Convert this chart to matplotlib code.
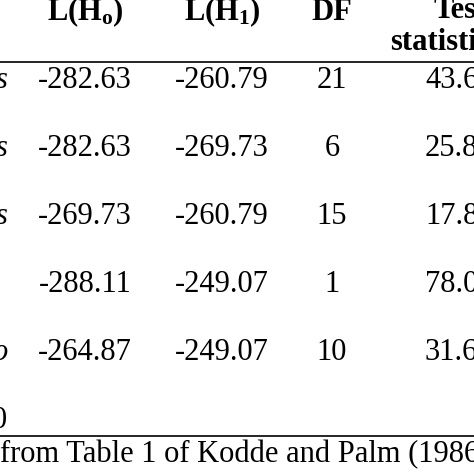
import matplotlib
matplotlib.use('Agg')
import matplotlib.pyplot as plt

plt.rcParams['font.family'] = 'Liberation Serif'
plt.rcParams['mathtext.fontset'] = 'custom'
plt.rcParams['mathtext.rm'] = 'Liberation Serif'
plt.rcParams['mathtext.bf'] = 'Liberation Serif:bold'

headers = [r'$\mathbf{L(H_o)}$', r'$\mathbf{L(H_1)}$', 'DF']
row_tails = ['s', 's', 's', '', 'o']
l_h0 = ['-282.63', '-282.63', '-269.73', '-288.11', '-264.87']
l_h1 = ['-260.79', '-269.73', '-260.79', '-249.07', '-249.07']
df = ['21', '6', '15', '1', '10']
test_stat = ['43.68', '25.80', '17.88', '78.08', '31.60']
caption = 'from Table 1 of Kodde and Palm (1986)'

W = H = 474
FS = 22
fig = plt.figure(figsize=(4.74, 4.74), dpi=100)
fig.patch.set_facecolor('white')

def put(x, y, s, **kw):
    fig.text(x / W, 1 - y / H, s, va='center', fontsize=FS, **kw)

col_x = [85, 222, 332]
for x, h in zip(col_x, headers):
    put(x, 12, h, ha='center', fontweight='bold')
put(433, 10, 'Test', ha='left', fontweight='bold')
put(390, 43, 'statistic', ha='left', fontweight='bold')

row_y = [81, 148, 216, 284, 352]
for i, y in enumerate(row_y):
    put(7, y, row_tails[i], ha='right', style='italic')
    put(col_x[0], y, l_h0[i], ha='center')
    put(col_x[1], y, l_h1[i], ha='center')
    put(col_x[2], y, df[i], ha='center')
    put(425, y, test_stat[i], ha='left')
put(7, 420, '0', ha='right')

for y in [62, 436]:
    fig.add_artist(plt.Line2D([0, 1], [1 - y / H] * 2, color='black', lw=1.2))

put(0, 455, caption, ha='left')

fig.savefig('out.png', dpi=100)
